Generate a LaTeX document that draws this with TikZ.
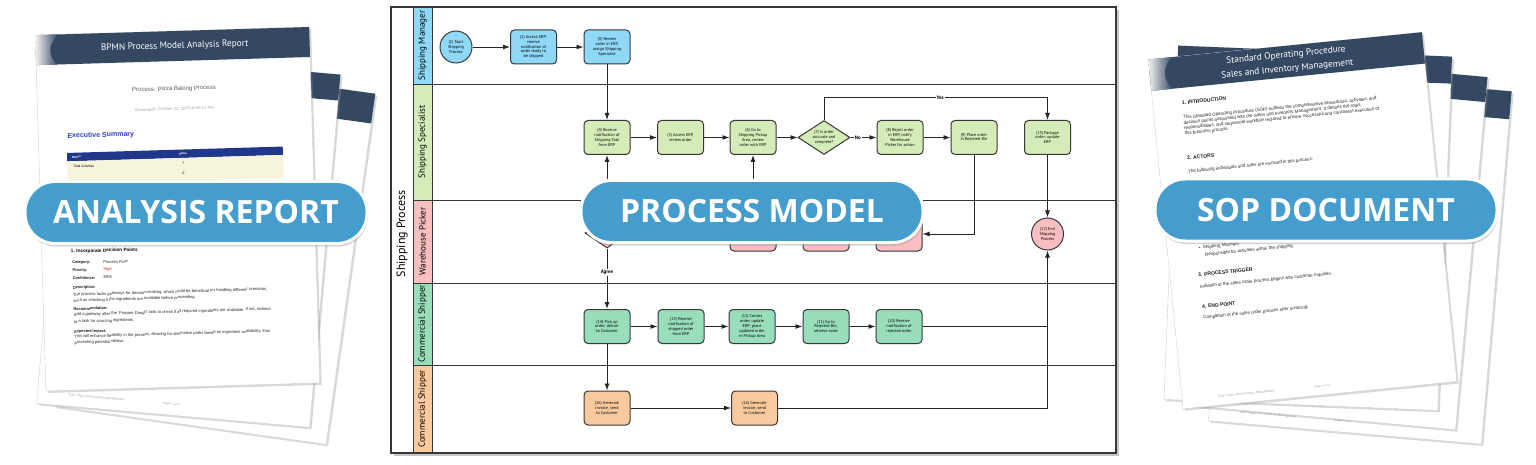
\documentclass[tikz,border=0pt]{standalone}
\usepackage{fontspec}
\setmainfont{Liberation Sans}
\newfontfamily\bpmnfont{PT Sans}
\newfontfamily\bannerfont{Open Sans}
\usepackage{xcolor}
\usepackage{tikz}
\usetikzlibrary{positioning,arrows.meta,shapes.geometric,shadows}
\definecolor{lanemgr}{RGB}{143,216,246}
\definecolor{lanespc}{RGB}{214,236,184}
\definecolor{lanepck}{RGB}{248,190,192}
\definecolor{lanecsh}{RGB}{152,222,186}
\definecolor{laneinv}{RGB}{250,202,158}
\definecolor{linedark}{RGB}{55,55,55}
\definecolor{hdrnavy}{RGB}{52,72,98}
\definecolor{tblnavy}{RGB}{32,56,140}
\definecolor{tblrow}{RGB}{246,244,218}
\definecolor{sumblue}{RGB}{45,65,200}
\definecolor{bannerblue}{RGB}{68,157,204}
\definecolor{txtgray}{RGB}{95,95,95}
\definecolor{hilite}{RGB}{230,30,30}
\tikzset{
  tasknode/.style = {rectangle, rounded corners=4pt, minimum width=46pt, minimum height=34pt,
                     inner sep=1pt, align=center, draw=linedark, line width=1pt,
                     font=\bpmnfont\fontsize{4.2}{4.9}\selectfont},
  mgrnode/.style  = {tasknode, fill=lanemgr},
  spcnode/.style  = {tasknode, fill=lanespc},
  pcknode/.style  = {tasknode, fill=lanepck},
  cshnode/.style  = {tasknode, fill=lanecsh},
  invnode/.style  = {tasknode, fill=laneinv},
  evtnode/.style  = {circle, minimum size=32pt, inner sep=0pt, align=center, draw=linedark,
                     line width=1pt, font=\bpmnfont\fontsize{4.2}{4.9}\selectfont},
  gatenode/.style = {diamond, aspect=1.5, minimum width=52pt, minimum height=34pt, inner sep=0pt,
                     align=center, draw=linedark, line width=1pt,
                     font=\bpmnfont\fontsize{4.2}{4.9}\selectfont},
  flowedge/.style = {-{Latex[length=7pt,width=5pt]}, line width=0.9pt, draw=black!85},
  flowlbl/.style  = {fill=white, inner sep=1pt, font=\bpmnfont\bfseries\fontsize{5}{6}\selectfont},
  lanelbl/.style  = {rectangle, rotate=90, minimum height=19pt, inner sep=0pt, draw=linedark,
                     line width=0.8pt, font=\bpmnfont\fontsize{9}{10}\selectfont},
  lanerule/.style = {line width=0.8pt, draw=linedark},
  banner/.style   = {rectangle, rounded corners=30pt, minimum width=342pt, minimum height=62pt,
                     fill=bannerblue, draw=white, line width=3pt, text=white,
                     font=\bannerfont\bfseries\fontsize{32}{36}\selectfont,
                     drop shadow={opacity=.35, shadow xshift=1pt, shadow yshift=-3pt}},
  sheetfill/.style = {fill=white, draw=gray!35, line width=.4pt,
                      drop shadow={opacity=.3, shadow xshift=2pt, shadow yshift=-2pt}},
  pagetxt/.style  = {anchor=west, inner sep=0pt, text=black!85, font=\fontsize{4.5}{5}\selectfont},
  pagehd/.style   = {anchor=west, inner sep=0pt, text=black!90, font=\bfseries\fontsize{5}{6}\selectfont},
  rptxt/.style    = {anchor=west, inner sep=0pt, text=black!85, font=\fontsize{4.1}{5}\selectfont},
  rpbold/.style   = {anchor=west, inner sep=0pt, text=black!90, font=\bfseries\fontsize{3.9}{5}\selectfont},
  footlbl/.style  = {inner sep=0pt, text=gray!70, font=\fontsize{3.2}{4}\selectfont},
  hdrlbl/.style   = {inner sep=0pt, text=white, font=\bpmnfont\fontsize{9.3}{11}\selectfont}
}
% back sheet: name, centre, angle, half height, header height, page text
\newcommand{\docsheet}[6]{%
  \begin{scope}[shift={#2}, rotate=#3, every node/.style={transform shape}]
    \fill[sheetfill] (-137,-#4) rectangle (137,#4);
    \fill[hdrnavy] (-137,-#4) rectangle (137,#5-#4);
    \node[footlbl] (#1foot) at (-78,#4-11) {SOP: Sales and Inventory Management};
    \node[footlbl] (#1page) at (-3,#4-11) {#6};
  \end{scope}}

\begin{document}
\begin{tikzpicture}[x=1pt, y=-1pt]
  \useasboundingbox (0,0) rectangle (1536,465);
  % ---------------- Analysis report stack
  \docsheet{rpC}{(215,250)}{-8}{177}{30}{Page 1 of 2}
  \docsheet{rpB}{(188.5,239)}{-5}{177}{26}{Page 1 of 4}
  \begin{scope}[shift={(177.5,209)}, rotate=1.7, every node/.style={transform shape}]
    \fill[sheetfill] (-137,-178) rectangle (137,178);
    \fill[hdrnavy] (-137,-178) rectangle (137,-148);
    \shade[left color=gray!10, right color=hdrnavy] (-137,-178) -- (-114,-178)
      .. controls (-126,-168) and (-124,-155) .. (-116,-148) -- (-137,-148) -- cycle;
    \node[hdrlbl] (rpTitle) at (2,-163) {BPMN Process Model Analysis Report};
    \node[inner sep=0pt, text=txtgray, font=\fontsize{6}{7}\selectfont] (rpProc) at (0,-120) {Process: Pizza Baking Process};
    \node[inner sep=0pt, text=gray!70, font=\fontsize{4.2}{5}\selectfont] (rpGen) at (0,-100) {Generated: October 22, 2025 at 05:17 PM};
    \node[anchor=west, inner sep=0pt, text=sumblue, font=\bfseries\fontsize{7}{8}\selectfont] (rpSum) at (-108,-76) {Executive Summary};
    % summary table
    \fill[tblnavy] (-108.8,-59.3) rectangle (107,-50.9);
    \fill[tblrow] (-108.8,-50.9) rectangle (107,-28);
    \node[anchor=west, inner sep=0pt, text=white, font=\bfseries\fontsize{3}{4}\selectfont] (rpMet) at (-104,-55) {Metric};
    \node[anchor=west, inner sep=0pt, text=white, font=\bfseries\fontsize{3}{4}\selectfont] (rpVal) at (3,-55) {Value};
    \node[anchor=west, inner sep=0pt, font=\fontsize{3.3}{4}\selectfont] (rpAct) at (-103,-45.5) {Total Activities};
    \node[anchor=west, inner sep=0pt, font=\fontsize{3.3}{4}\selectfont] (rpActV) at (6,-45.5) {7};
    \node[anchor=west, inner sep=0pt, font=\fontsize{3.3}{4}\selectfont] (rpGwV) at (6,-35) {0};
    % recommendation
    \node[anchor=west, inner sep=0pt, font=\bfseries\fontsize{4.6}{5}\selectfont] (rpRec) at (-108,39.6) {1. Incorporate Decision Points};
    \node[rpbold] (rpCat) at (-107,50.9) {Category:};
    \node[rptxt] (rpCatV) at (-76,50.9) {Process Flow};
    \node[rpbold] (rpPri) at (-107,58.6) {Priority:};
    \node[rptxt, text=hilite] (rpPriV) at (-76,58.6) {High};
    \node[rpbold] (rpCon) at (-107,66.2) {Confidence:};
    \node[rptxt] (rpConV) at (-76,66.2) {80\%};
    \node[rpbold] (rpDes) at (-107,75.9) {Description:};
    \node[rptxt] (rpDes1) at (-107,82.9) {The process lacks gateways for decision-making, which could be beneficial for handling different scenarios,};
    \node[rptxt] (rpDes2) at (-107,88.9) {such as checking if the ingredients are available before proceeding.};
    \node[rpbold] (rpRcm) at (-107,96.9) {Recommendation:};
    \node[rptxt] (rpRcm1) at (-107,102.9) {Add a gateway after the `Prepare Dough' task to check if all required ingredients are available. If not, redirect};
    \node[rptxt] (rpRcm2) at (-107,109.9) {to a task for sourcing ingredients.};
    \node[rpbold] (rpImp) at (-107,119.9) {Expected Impact:};
    \node[rptxt] (rpImp1) at (-107,124.9) {This will enhance flexibility in the process, allowing for alternative paths based on ingredient availability, thus};
    \node[rptxt] (rpImp2) at (-107,130.9) {preventing potential delays.};
  \end{scope}
  \node[banner] (bnReport) at (196,212.5) {ANALYSIS REPORT};

  % ---------------- Process model
  \fill[white, drop shadow={opacity=.45, shadow xshift=3pt, shadow yshift=-3pt}] (391,7) rectangle (1116,453);
  \node[lanelbl, fill=lanemgr, minimum width=77pt] (lnMgr) at (422.5,45.5)  {Shipping Manager};
  \node[lanelbl, fill=lanespc, minimum width=116pt] (lnSpc) at (422.5,142) {Shipping Specialist};
  \node[lanelbl, fill=lanepck, minimum width=83pt] (lnPck) at (422.5,241.5) {Warehouse Picker};
  \node[lanelbl, fill=lanecsh, minimum width=82pt] (lnCsh) at (422.5,324)  {Commercial Shipper};
  \node[lanelbl, fill=laneinv, minimum width=88pt] (lnInv) at (422.5,409)  {Commercial Shipper};
  \foreach \ly in {84,200,283,365}
    \draw[lanerule] (432,\ly) -- (1116,\ly);
  \draw[lanerule, line width=1.1pt] (391,7) rectangle (1116,453);
  \draw[lanerule] (413,7) -- (413,453);
  \node[rotate=90, inner sep=0pt, font=\bpmnfont\fontsize{12}{14}\selectfont] (poolLbl) at (402,234) {Shipping Process};

  % Shipping Manager
  \node[evtnode, fill=lanemgr] (t1) at (456,47)    {(1) Start\\Shipping\\Process};
  \node[mgrnode] (t2) at (533.5,47) {(2) Access ERP:\\receive\\notification of\\order ready to\\be shipped};
  \node[mgrnode] (t3) at (607,47)   {(3) Review\\order in ERP,\\assign Shipping\\Specialist};
  % Shipping Specialist
  \node[spcnode] (t4) at (607,137.5)   {(4) Receive\\notification of\\Shipping Task\\from ERP};
  \node[spcnode] (t5) at (680.5,137.5) {(5) Access ERP,\\review order};
  \node[spcnode] (t6) at (753,137.5)   {(6) Go to\\Shipping Pickup\\Area, review\\order with ERP};
  \node[gatenode, fill=lanespc] (t7) at (824,137.5) {(7) Is order\\accurate and\\complete?};
  \node[spcnode] (t8) at (900,137.5)   {(8) Reject order\\in ERP, notify\\Warehouse\\Picker for action};
  \node[spcnode] (t9) at (974,137.5)   {(9) Place order\\in Rejected Bin};
  \node[spcnode] (t13) at (1047.5,137.5) {(13) Package\\order; update\\ERP};
  % Warehouse Picker
  \node[gatenode, fill=lanepck, minimum width=44pt, minimum height=30pt] (gPck) at (607,233) {};
  \node[pcknode] (p1) at (753,234) {};
  \node[pcknode] (p2) at (826,234) {};
  \node[pcknode] (p3) at (899,234) {};
  \node[evtnode, fill=lanepck] (t17) at (1047.5,234) {(17) End\\Shipping\\Process};
  % Commercial Shipper
  \node[cshnode] (t14) at (607,326.5) {(14) Pick up\\order, deliver\\to Customer};
  \node[cshnode] (t15) at (681,326.5) {(15) Receive\\notification of\\shipped order\\from ERP};
  \node[cshnode] (t12) at (752,326.5) {(12) Correct\\order; update\\ERP; place\\updated order\\in Pickup Area};
  \node[cshnode] (t11) at (826,326.5) {(11) Go to\\Rejected Bin,\\retrieve order};
  \node[cshnode] (t10) at (899,326.5) {(10) Receive\\notification of\\rejected order};
  % Invoicing lane
  \node[invnode] (t16a) at (607,408)   {(16) Generate\\invoice, send\\to Customer};
  \node[invnode] (t16b) at (754.5,408) {(16) Generate\\invoice, send\\to Customer};

  % Flows
  \draw[flowedge] (t1) -- (t2);
  \draw[flowedge] (t2) -- (t3);
  \draw[flowedge] (t3) -- (t4);
  \draw[flowedge] (t4) -- (t5);
  \draw[flowedge] (t5) -- (t6);
  \draw[flowedge] (t6) -- (t7);
  \draw[flowedge] (t7) -- node[flowlbl, pos=0.28] {No} (t8);
  \draw[flowedge] (t7.north) -- ++(0,-22.5) -| node[flowlbl, pos=0.26] {Yes} (t13.north);
  \draw[flowedge] (t8) -- (t9);
  \draw[flowedge] (t9.south) |- (p3.east);
  \draw[flowedge] (t13) -- (t17);
  \draw[flowedge] (gPck.north) -- (t4.south);
  \draw[flowedge] (p1.north) -- (t6.south);
  \draw[flowedge] (gPck.south) -- node[flowlbl, pos=0.4] {Agree} (t14.north);
  \draw[flowedge] (t14) -- (t15);
  \draw[flowedge] (t15) -- (t12);
  \draw[flowedge] (t12) -- (t11);
  \draw[flowedge] (t11) -- (t10);
  \draw[line width=0.9pt, draw=black!85] (t10.east) -- (t10.east -| t17.south);
  \draw[flowedge] (t14) -- (t16a);
  \draw[flowedge] (t16a) -- (t16b);
  \draw[flowedge] (t16b.east) -| (t17.south);
  \node[banner] (bnModel) at (752,211.5) {PROCESS MODEL};

  % ---------------- SOP stack
  \docsheet{sopD}{(1360,256)}{-4.9}{177}{28}{Page 1 of 4}
  \docsheet{sopC}{(1335,241)}{-5.2}{177}{25}{Page 1 of 4}
  \docsheet{sopB}{(1308,228)}{-2.3}{177}{27}{Page 1 of 2}
  \begin{scope}[shift={(1302.5,220.5)}, rotate=5.7, every node/.style={transform shape}]
    \fill[sheetfill] (-137.5,-175.5) rectangle (137.5,175.5);
    \fill[hdrnavy] (-137.5,-175.5) rectangle (137.5,-144);
    \shade[left color=gray!10, right color=hdrnavy] (-137.5,-175.5) -- (-114,-175.5)
      .. controls (-126,-165) and (-124,-152) .. (-116,-144) -- (-137.5,-144) -- cycle;
    \node[hdrlbl] (sopTitle) at (0,-166) {Standard Operating Procedure};
    \node[hdrlbl] (sopSub) at (0,-152) {Sales and Inventory Management};
    \node[pagehd] (sopH1) at (-108.5,-129) {1. INTRODUCTION};
    \node[pagetxt] (sopP1) at (-108.7,-114) {This Standard Operating Procedure (SOP) outlines the comprehensive procedures, activities, and};
    \node[pagetxt] (sopP2) at (-108.7,-108.7) {decision points associated with the Sales and Inventory Management. It defines the roles,};
    \node[pagetxt] (sopP3) at (-108.7,-103.4) {responsibilities, and sequential workflow required to ensure successful and consistent execution of};
    \node[pagetxt] (sopP4) at (-108.7,-98.1) {this business process.};
    \node[pagehd] (sopH2) at (-108.7,-73.7) {2. ACTORS};
    \node[pagetxt] (sopA1) at (-109,-59.7) {The following individuals and roles are involved in this process:};
    \node[pagetxt] (sopA2) at (-106,17) {\textbullet\ \ Shipping Manager};
    \node[pagetxt] (sopA3) at (-100.4,24.6) {Responsible for activities within the shipping};
    \node[pagehd] (sopH3) at (-109.4,43.8) {3. PROCESS TRIGGER};
    \node[pagetxt] (sopT1) at (-108.6,56) {Initiation of the sales order process begins with customer inquiries.};
    \node[pagehd] (sopH4) at (-108.6,76) {4. END POINT};
    \node[pagetxt] (sopE1) at (-108.7,87) {Completion of the sales order process after invoicing.};
    \node[footlbl] (sopFoot) at (-73,167) {SOP: Sales and Inventory Management};
    \node[footlbl] (sopPage) at (3,167) {Page 1 of 4};
  \end{scope}
  \node[banner] (bnSop) at (1326,210) {SOP DOCUMENT};
\end{tikzpicture}
\end{document}
